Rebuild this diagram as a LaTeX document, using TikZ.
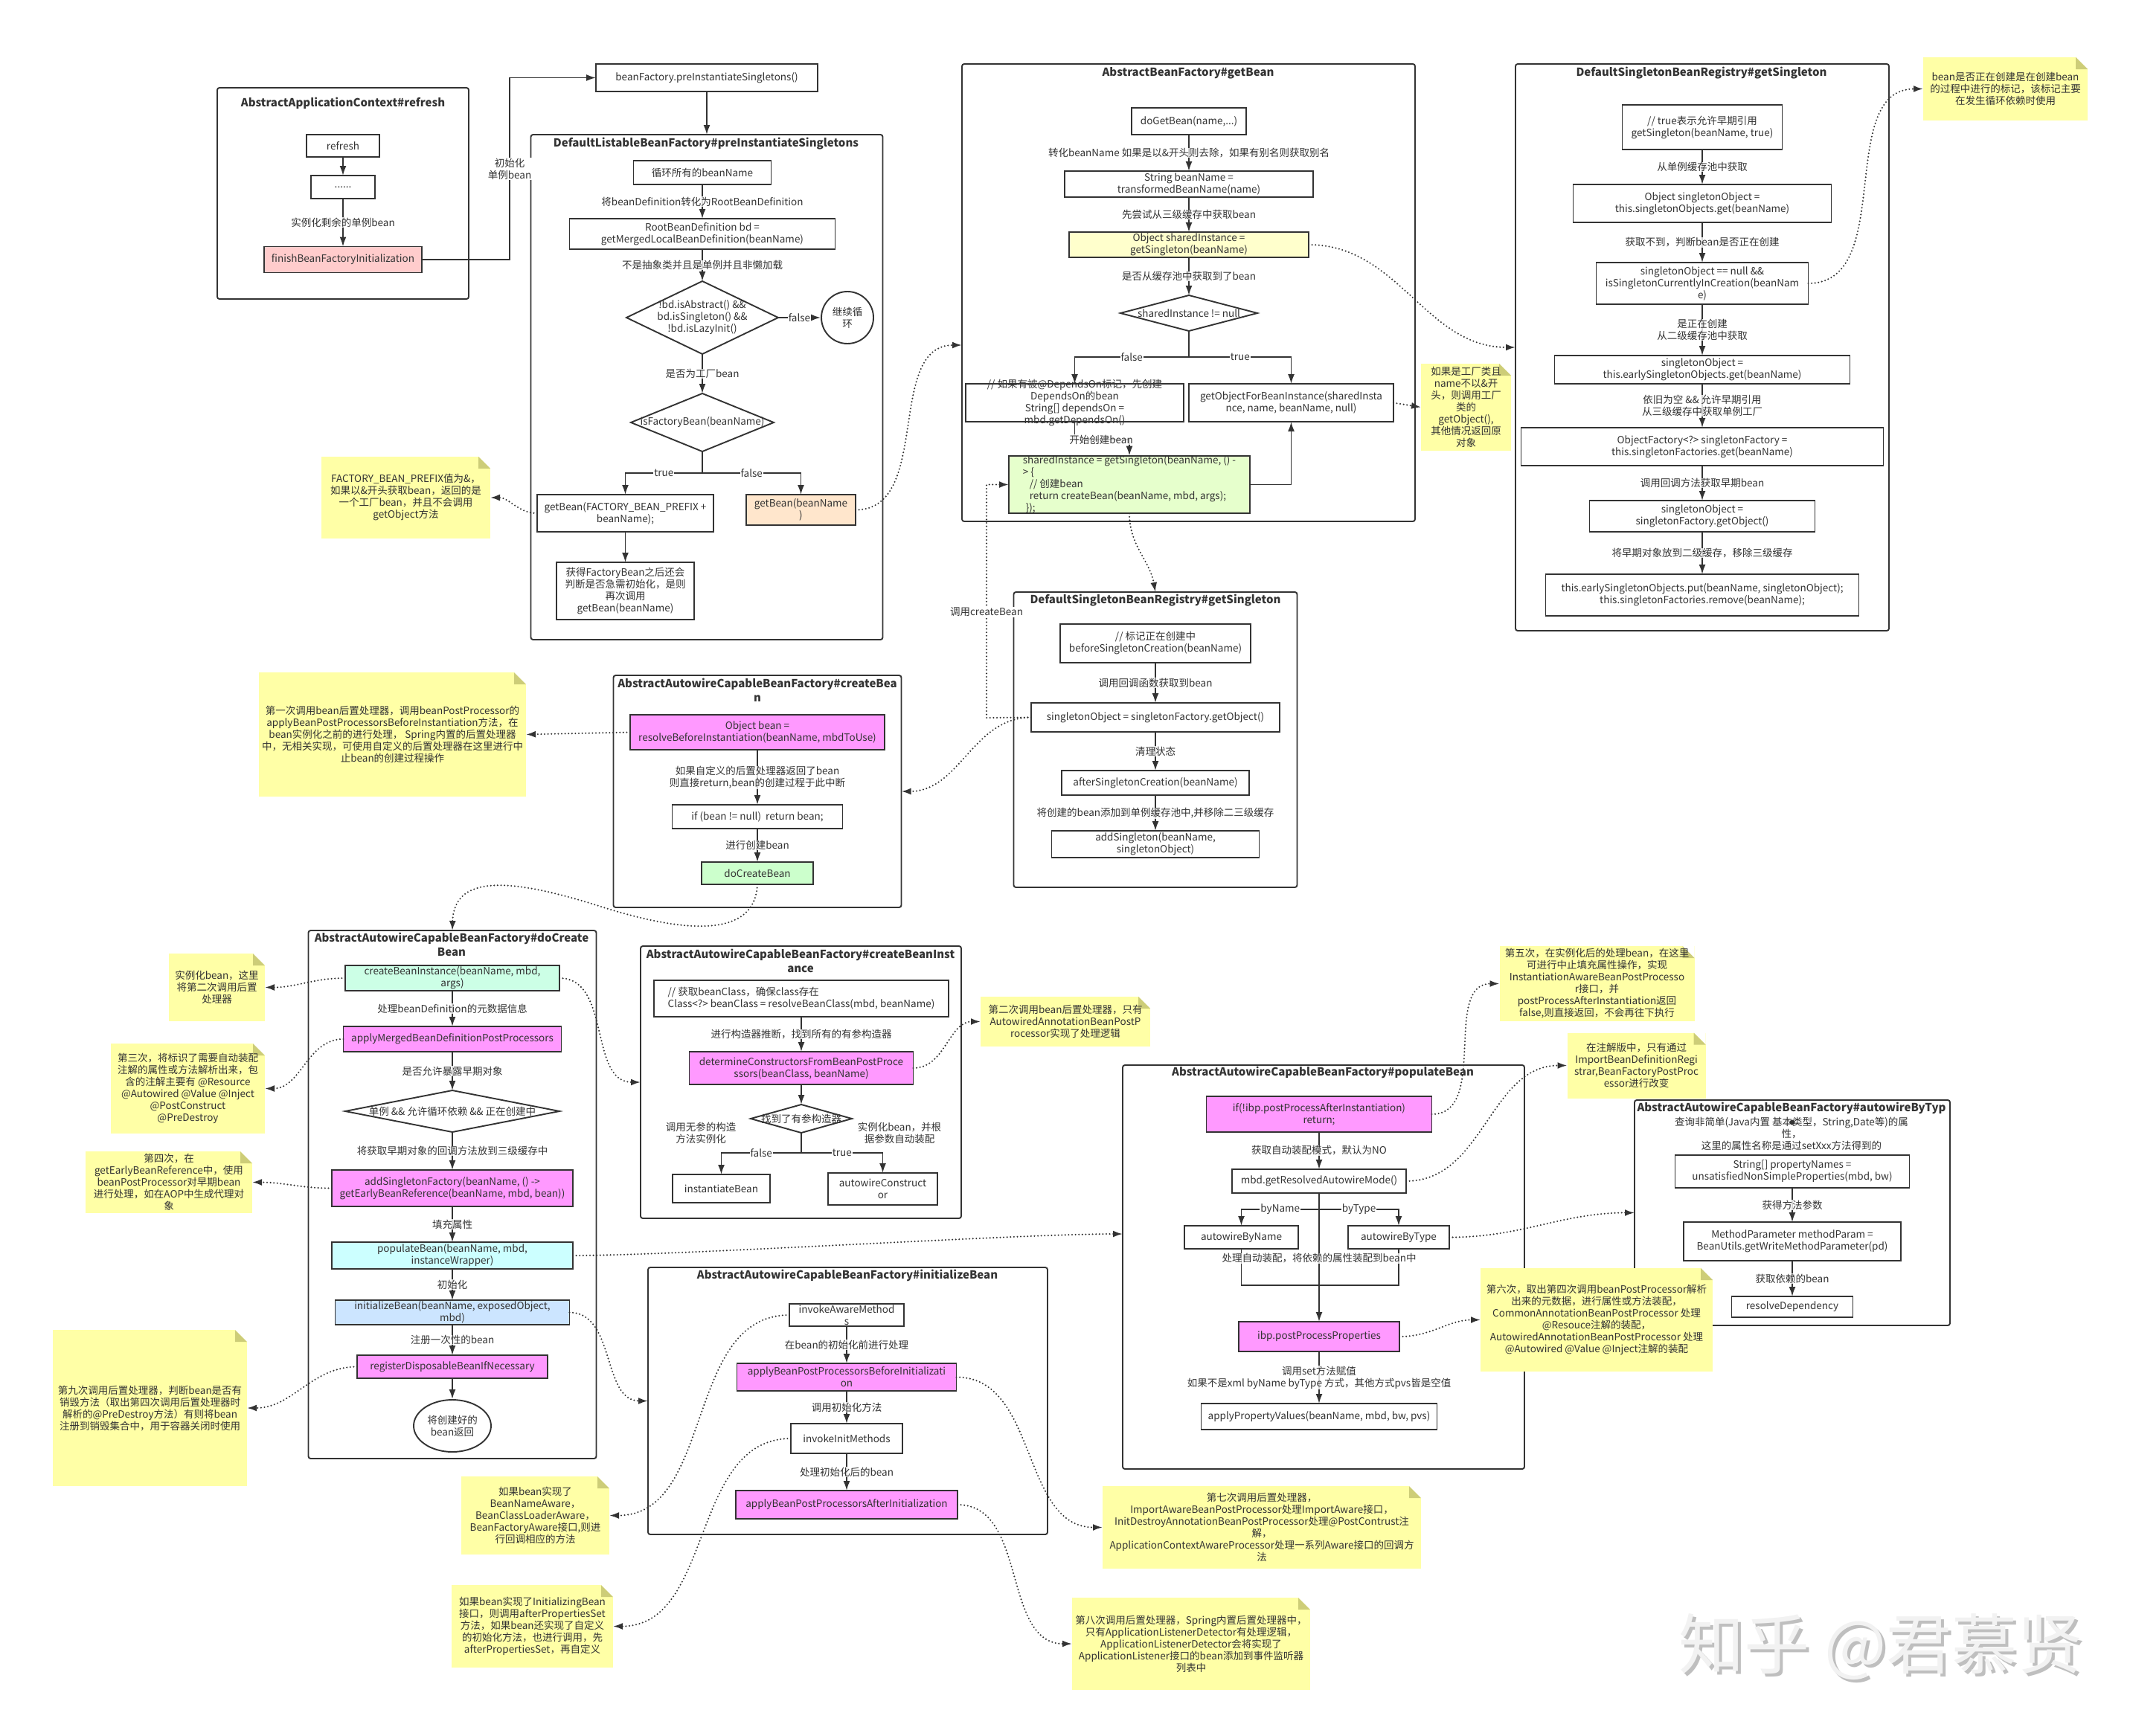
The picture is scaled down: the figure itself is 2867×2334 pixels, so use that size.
\documentclass[tikz,border=0pt]{standalone}
\usepackage{fontspec}
\setmainfont{Noto Sans CJK SC}
\usepackage{xcolor}
\usetikzlibrary{positioning, arrows.meta, shapes.geometric}
\definecolor{linecol}{HTML}{333333}
\definecolor{notefill}{HTML}{FFFFA6}
\definecolor{notefold}{HTML}{CDCD78}
\definecolor{pink}{HTML}{FF99FF}
\tikzset{
    every node/.style={font=\fontsize{13.5}{16}\selectfont, text=linecol},
    sz/.style 2 args={minimum width=#1pt, minimum height=#2pt},
    box/.style={rectangle, draw=linecol, line width=1.9pt, fill=white, inner sep=0pt, outer sep=0pt, align=center},
    panel/.style={box, rounded corners=3pt},
    dia/.style={diamond, draw=linecol, line width=1.9pt, fill=white, inner sep=0pt, outer sep=0pt},
    title/.style={align=center, inner sep=0pt, font=\fontsize{15}{19}\selectfont\bfseries},
    txt/.style={align=center, inner sep=0pt},
    lab/.style={align=center, inner sep=0.5pt, fill=white, fill opacity=0.8, text opacity=1},
    labw/.style={align=center, inner sep=1pt, fill=white},
    arr/.style={-{Latex[length=13pt,width=9pt]}, line width=1.9pt, draw=linecol},
    seg/.style={line width=1.9pt, draw=linecol},
    dotarr/.style={-{Latex[length=13pt,width=9pt]}, line width=2.3pt, draw=linecol, line cap=round, dash pattern=on 0pt off 4.6pt},
    note/.style={rectangle, fill=notefill, align=center, inner sep=0pt, outer sep=0pt,
        path picture={
            \fill[white] (path picture bounding box.north east) -- ++(-16pt,0pt) -- ++(16pt,-16pt) -- cycle;
            \fill[notefold] (path picture bounding box.north east) ++(-16pt,0pt) -- ++(16pt,-16pt) -- ++(-16pt,0pt) -- cycle;
        }},
}
\begin{document}
\begin{tikzpicture}[x=1pt, y=-1pt]
    \useasboundingbox (0,0) rectangle (2867,2334);

    \node[panel,sz={338}{284}] (refreshpanel) at (461,260) {};
    \node[panel,sz={473}{679}] (dlbfpanel) at (950,520.5) {};
    \node[panel,sz={609}{615}] (abfpanel) at (1597.5,393.5) {};
    \node[panel,sz={502}{762}] (spanel) at (2288,467) {};
    \node[panel,sz={381}{397}] (gspanel) at (1553,994.5) {};
    \node[panel,sz={387}{312}] (cbpanel) at (1018,1064) {};
    \node[panel,sz={387}{710}] (dopanel) at (608,1606) {};
    \node[panel,sz={431}{366}] (cipanel) at (1076.5,1455) {};
    \node[panel,sz={540}{543}] (ppanel) at (1779,1703.5) {};
    \node[panel,sz={424}{303}] (apanel) at (2409,1630.5) {};
    \node[panel,sz={537}{359}] (ipanel) at (1139.5,1883.5) {};

    \node[title] (refreshtitle) at (461,139) {AbstractApplicationContext\#refresh};
    \node[title] (dlbftitle) at (949,193) {DefaultListableBeanFactory\#preInstantiateSingletons};
    \node[title] (abftitle) at (1597,98) {AbstractBeanFactory\#getBean};
    \node[title] (stitle) at (2287,98) {DefaultSingletonBeanRegistry\#getSingleton};
    \node[title] (gstitle) at (1553,807) {DefaultSingletonBeanRegistry\#getSingleton};
    \node[title] (cbtitle) at (1018,928) {AbstractAutowireCapableBeanFactory\#createBea\\n};
    \node[title] (dotitle) at (607,1270) {AbstractAutowireCapableBeanFactory\#doCreate\\Bean};
    \node[title] (cititle) at (1076,1292) {AbstractAutowireCapableBeanFactory\#createBeanInst\\ance};
    \node[title] (ptitle) at (1778,1442) {AbstractAutowireCapableBeanFactory\#populateBean};
    \node[title] (atitle) at (2408,1490) {AbstractAutowireCapableBeanFactory\#autowireByTyp};
    \node[title] (ititle) at (1139,1715) {AbstractAutowireCapableBeanFactory\#initializeBean};

    \node[box,sz={98}{30}] (refresh) at (461,196) {refresh};
    \node[box,sz={86}{31}] (dots) at (461,251.5) {......};
    \node[box,sz={212}{35},fill={rgb,255:red,255;green,204;blue,204}] (finish) at (461,349) {finishBeanFactoryInitialization};
    \node[box,sz={298}{37}] (preinst) at (950,104.5) {beanFactory.preInstantiateSingletons()};

    \node[box,sz={185}{32}] (loop) at (944,232) {循环所有的beanName};
    \node[box,sz={357}{41}] (rootdef) at (944,314.5) {RootBeanDefinition bd =\\getMergedLocalBeanDefinition(beanName)};
    \node[dia,sz={204}{98}] (check) at (944,427) {};
    \node[txt] (checktext) at (check) {!bd.isAbstract() \&\&\\bd.isSingleton() \&\&\\!bd.isLazyInit()};
    \node[circle,draw=linecol,line width=1.9pt,inner sep=0pt,minimum size=70pt,align=center] (next) at (1139,427) {继续循\\环};
    \node[dia,sz={192}{78}] (isfac) at (944,568) {};
    \node[txt] (isfactext) at (isfac) {isFactoryBean(beanName)};
    \coordinate (spfac) at (944,636);
    \node[box,sz={237}{50}] (gbfac) at (840.5,690) {getBean(FACTORY\_BEAN\_PREFIX +\\beanName);};
    \node[box,sz={147}{41},fill={rgb,255:red,255;green,230;blue,204}] (gbname) at (1076.5,685.5) {getBean(beanName\\)};
    \node[box,sz={185}{77}] (facinit) at (840.5,794.5) {获得FactoryBean之后还会\\判断是否急需初始化，是则\\再次调用\\getBean(beanName)};

    \node[box,sz={154}{36}] (dogetbean) at (1598,163) {doGetBean(name,...)};
    \node[box,sz={334}{35}] (beanname) at (1598,247.5) {String beanName =\\transformedBeanName(name)};
    \node[box,sz={322}{34},fill={rgb,255:red,255;green,255;blue,204}] (shared) at (1598,329) {Object sharedInstance =\\getSingleton(beanName)};
    \node[dia,sz={184}{48}] (notnull) at (1598,421) {};
    \node[txt] (notnulltext) at (notnull) {sharedInstance != null};
    \coordinate (spshared) at (1598,480);
    \node[box,sz={293}{51}] (depends) at (1444.5,541.5) {};
    \node[txt] (dependstext) at (depends) {// 如果有被@DependsOn标记，先创建\\DependsOn的bean\\String[] dependsOn =\\mbd.getDependsOn()};
    \node[box,sz={275}{51}] (getobj) at (1735.5,541.5) {getObjectForBeanInstance(sharedInsta\\nce, name, beanName, null)};
    \node[box,sz={324}{77},align=left,fill={rgb,255:red,230;green,255;blue,204}] (green) at (1518,651.5) {sharedInstance = getSingleton(beanName, () -\\> \{\\\hspace*{9pt}// 创建bean\\\hspace*{9pt}return createBean(beanName, mbd, args);\\\hspace*{4pt}\});};
    \coordinate (depgreen) at (1480,591);

    \node[box,sz={215}{60}] (sa) at (2288,171) {// true表示允许早期引用\\getSingleton(beanName, true)};
    \node[box,sz={347}{51}] (sb) at (2288,273.5) {Object singletonObject =\\this.singletonObjects.get(beanName)};
    \node[box,sz={285}{56}] (sc) at (2288,381) {singletonObject == null \&\&\\isSingletonCurrentlyInCreation(beanNam\\e)};
    \node[box,sz={397}{38}] (sd) at (2288,497) {singletonObject =\\this.earlySingletonObjects.get(beanName)};
    \node[box,sz={487}{51}] (se) at (2288,600.5) {ObjectFactory<?> singletonFactory =\\this.singletonFactories.get(beanName)};
    \node[box,sz={303}{42}] (sf) at (2288,694) {singletonObject =\\singletonFactory.getObject()};
    \node[box,sz={421}{56}] (sg) at (2288,800) {this.earlySingletonObjects.put(beanName, singletonObject);\\this.singletonFactories.remove(beanName);};

    \node[box,sz={256}{52}] (ga) at (1553,865) {// 标记正在创建中\\beforeSingletonCreation(beanName)};
    \node[box,sz={334}{39}] (gb) at (1553,964.5) {singletonObject = singletonFactory.getObject()};
    \node[box,sz={252}{33}] (gc) at (1553,1052.5) {afterSingletonCreation(beanName)};
    \node[box,sz={279}{36}] (gd) at (1553,1135) {addSingleton(beanName,\\singletonObject)};

    \node[box,sz={342}{47},fill=pink] (ca) at (1018,984.5) {Object bean =\\resolveBeforeInstantiation(beanName, mbdToUse)};
    \node[box,sz={229}{32}] (cb) at (1018,1098) {if (bean != null)\ \ return bean;};
    \node[box,sz={150}{30},fill={rgb,255:red,204;green,255;blue,204}] (cc) at (1018,1174) {doCreateBean};
    \coordinate (wave) at (805,1218);

    \node[box,sz={288}{34},fill={rgb,255:red,204;green,255;blue,230}] (da) at (608,1315) {createBeanInstance(beanName, mbd,\\args)};
    \node[box,sz={293}{34},fill=pink] (db) at (608,1397) {applyMergedBeanDefinitionPostProcessors};
    \node[dia,sz={288}{56}] (dc) at (608,1494) {};
    \node[txt] (dctext) at (dc) {单例 \&\& 允许循环依赖 \&\& 正在创建中};
    \node[box,sz={324}{49},fill=pink] (dd) at (608,1597.5) {addSingletonFactory(beanName, () ->\\getEarlyBeanReference(beanName, mbd, bean))};
    \node[box,sz={324}{36},fill={rgb,255:red,204;green,255;blue,255}] (de) at (608,1688) {populateBean(beanName, mbd,\\instanceWrapper)};
    \node[box,sz={315}{33},fill={rgb,255:red,204;green,229;blue,255}] (df) at (608,1764.5) {initializeBean(beanName, exposedObject,\\mbd)};
    \node[box,sz={256}{31},fill=pink] (dg) at (608,1837.5) {registerDisposableBeanIfNecessary};
    \node[ellipse,draw=linecol,line width=1.9pt,inner sep=0pt,align=center,sz={104}{70}] (dh) at (608,1917) {将创建好的\\bean返回};

    \node[box,sz={396}{49},align=left] (cia) at (1077,1342.5) {// 获取beanClass，确保class存在\\Class<?> beanClass = resolveBeanClass(mbd, beanName)};
    \node[box,sz={301}{44},fill=pink] (cib) at (1077,1436) {determineConstructorsFromBeanPostProce\\ssors(beanClass, beanName)};
    \node[dia,sz={136}{38}] (cic) at (1077,1504) {};
    \node[txt] (cictext) at (cic) {找到了有参构造器};
    \coordinate (spctor) at (1077,1550);
    \node[box,sz={131}{38}] (cid) at (969.5,1598) {instantiateBean};
    \node[box,sz={147}{43}] (cie) at (1186.5,1598.5) {autowireConstruct\\or};
    \node[txt] (cileft) at (942,1523) {调用无参的构造\\方法实例化};
    \node[txt] (ciright) at (1209,1523) {实例化bean，并根\\据参数自动装配};

    \node[box,sz={303}{48},fill=pink] (pa) at (1773,1498) {if(!ibp.postProcessAfterInstantiation)\\return;};
    \node[box,sz={234}{32}] (pb) at (1773,1588) {mbd.getResolvedAutowireMode()};
    \coordinate (spmode) at (1773,1626);
    \node[box,sz={153}{31}] (pc) at (1668.5,1663.5) {autowireByName};
    \node[box,sz={136}{31}] (pd) at (1880,1663.5) {autowireByType};
    \coordinate (pjoin) at (1773,1728);
    \node[box,sz={216}{40},fill=pink] (pe) at (1773,1797) {ibp.postProcessProperties};
    \node[box,sz={317}{35}] (pf) at (1773,1904.5) {applyPropertyValues(beanName, mbd, bw, pvs)};

    \node[circle,fill=linecol,inner sep=0pt,minimum size=7pt] (adot) at (2409,1509) {};
    \node[txt] (aintro) at (2408,1524) {查询非简单(Java内置 基本类型，String,Date等)的属\\性，\\这里的属性名称是通过setXxx方法得到的};
    \node[box,sz={315}{44}] (aa) at (2409,1575) {String[] propertyNames =\\unsatisfiedNonSimpleProperties(mbd, bw)};
    \node[box,sz={292}{52}] (ab) at (2409,1669) {MethodParameter methodParam =\\BeanUtils.getWriteMethodParameter(pd)};
    \node[box,sz={163}{28}] (ac) at (2409,1757) {resolveDependency};

    \node[box,sz={154}{30}] (ia) at (1138,1768) {};
    \node[txt] (iatext) at (ia) {invokeAwareMethod\\s};
    \node[box,sz={295}{37},fill=pink] (ib) at (1138,1851.5) {applyBeanPostProcessorsBeforeInitializati\\on};
    \node[box,sz={150}{40}] (ic) at (1138,1934) {invokeInitMethods};
    \node[box,sz={298}{38},fill=pink] (id) at (1138,2023) {applyBeanPostProcessorsAfterInitialization};

    \draw[arr] (refresh.south) -- (dots.north);
    \draw[arr] (dots.south) -- node[lab] (l1) {实例化剩余的单例bean} (finish.north);
    \coordinate (initmid) at (685,227);
    \draw[arr] (finish.east) -| (initmid) |- (preinst.west);
    \node[labw] (l2) at (initmid) {初始化\\单例bean};
    \draw[arr] (preinst.south) -- (dlbfpanel.north);
    \draw[arr] (loop.south) -- node[lab] (l3) {将beanDefinition转化为RootBeanDefinition} (rootdef.north);
    \draw[arr] (rootdef.south) -- node[lab] (l4) {不是抽象类并且是单例并且非懒加载} (check.north);
    \draw[arr] (check.east) -- node[labw] (l5) {false} (next.west);
    \draw[arr] (check.south) -- node[lab] (l6) {是否为工厂bean} (isfac.north);
    \draw[seg] (isfac.south) -- (spfac);
    \draw[arr] (spfac) -| node[labw,pos=0.25] (l7) {true} (gbfac.north);
    \draw[arr] (spfac) -| node[labw,pos=0.25] (l8) {false} (gbname.north);
    \draw[arr] (gbfac.south) -- (facinit.north);

    \draw[arr] (dogetbean.south) -- node[lab] (l9) {转化beanName 如果是以\&开头则去除，如果有别名则获取别名} (beanname.north);
    \draw[arr] (beanname.south) -- node[lab] (l10) {先尝试从三级缓存中获取bean} (shared.north);
    \draw[arr] (shared.south) -- node[lab] (l11) {是否从缓存池中获取到了bean} (notnull.north);
    \draw[seg] (notnull.south) -- (spshared);
    \draw[arr] (spshared) -| node[labw,pos=0.25] (l12) {false} (depends.north);
    \draw[arr] (spshared) -| node[labw,pos=0.25] (l13) {true} (getobj.north);
    \draw[arr] (depends.south) |- (depgreen) -| (green.north);
    \node[lab] (l14) at (depgreen) {开始创建bean};
    \draw[arr] (green.east) -| (getobj.south);

    \draw[arr] (sa.south) -- node[lab] (l15) {从单例缓存池中获取} (sb.north);
    \draw[arr] (sb.south) -- node[lab] (l16) {获取不到，判断bean是否正在创建} (sc.north);
    \draw[arr] (sc.south) -- node[lab] (l17) {是正在创建\\从二级缓存池中获取} (sd.north);
    \draw[arr] (sd.south) -- node[lab] (l18) {依旧为空 \&\& 允许早期引用\\从三级缓存中获取单例工厂} (se.north);
    \draw[arr] (se.south) -- node[lab] (l19) {调用回调方法获取早期bean} (sf.north);
    \draw[arr] (sf.south) -- node[lab] (l20) {将早期对象放到二级缓存，移除三级缓存} (sg.north);

    \draw[arr] (ga.south) -- node[lab] (l21) {调用回调函数获取到bean} (gb.north);
    \draw[arr] (gb.south) -- node[lab] (l22) {清理状态} (gc.north);
    \draw[arr] (gc.south) -- node[lab] (l23) {将创建的bean添加到单例缓存池中,并移除二三级缓存} (gd.north);

    \draw[arr] (ca.south) -- node[lab] (l24) {如果自定义的后置处理器返回了bean\\则直接return,bean的创建过程于此中断} (cb.north);
    \draw[arr] (cb.south) -- node[lab] (l25) {进行创建bean} (cc.north);

    \draw[arr] (da.south) -- node[lab] (l26) {处理beanDefinition的元数据信息} (db.north);
    \draw[arr] (db.south) -- node[lab] (l27) {是否允许暴露早期对象} (dc.north);
    \draw[arr] (dc.south) -- node[lab] (l28) {将获取早期对象的回调方法放到三级缓存中} (dd.north);
    \draw[arr] (dd.south) -- node[lab] (l29) {填充属性} (de.north);
    \draw[arr] (de.south) -- node[lab] (l30) {初始化} (df.north);
    \draw[arr] (df.south) -- node[lab] (l31) {注册一次性的bean} (dg.north);
    \draw[arr] (dg.south) -- (dh.north);

    \draw[arr] (cia.south) -- node[lab] (l32) {进行构造器推断，找到所有的有参构造器} (cib.north);
    \draw[arr] (cib.south) -- (cic.north);
    \draw[seg] (cic.south) -- (spctor);
    \draw[arr] (spctor) -| node[labw,pos=0.25] (l33) {false} (cid.north);
    \draw[arr] (spctor) -| node[labw,pos=0.25] (l34) {true} (cie.north);

    \draw[arr] (pa.south) -- node[lab] (l35) {获取自动装配模式，默认为NO} (pb.north);
    \draw[arr] (pb.south) -- (pe.north);
    \draw[arr] (spmode) -| node[labw,pos=0.25] (l36) {byName} (pc.north);
    \draw[arr] (spmode) -| node[labw,pos=0.25] (l37) {byType} (pd.north);
    \draw[seg] (pc.south) |- (pjoin) -| (pd.south);
    \node[lab] (l38) at (1773,1692) {处理自动装配，将依赖的属性装配到bean中};
    \draw[arr] (pe.south) -- node[lab] (l39) {调用set方法赋值\\如果不是xml byName byType 方式，其他方式pvs皆是空值} (pf.north);

    \draw[arr] (aa.south) -- node[lab] (l40) {获得方法参数} (ab.north);
    \draw[arr] (ab.south) -- node[lab] (l41) {获取依赖的bean} (ac.north);

    \draw[arr] (ia.south) -- node[lab] (l42) {在bean的初始化前进行处理} (ib.north);
    \draw[arr] (ib.south) -- node[lab] (l43) {调用初始化方法} (ic.north);
    \draw[arr] (ic.south) -- node[lab] (l44) {处理初始化后的bean} (id.north);

    \node[note,sz={227}{110}] (nfac) at (545.5,669) {FACTORY\_BEAN\_PREFIX值为\&，\\如果以\&开头获取bean，返回的是\\一个工厂bean，并且不会调用\\getObject方法};
    \node[note,sz={121}{117}] (nobj) at (1970.5,547.5) {如果是工厂类且\\name不以\&开\\头，则调用工厂\\类的\\getObject(),\\其他情况返回原\\对象};
    \node[note,sz={221}{85}] (ncreate) at (2695.5,119.5) {bean是否正在创建是在创建bean\\的过程中进行的标记，该标记主要\\在发生循环依赖时使用};
    \node[note,sz={359}{167}] (nfirst) at (527.5,987.5) {第一次调用bean后置处理器，调用beanPostProcessor的\\applyBeanPostProcessorsBeforeInstantiation方法，在\\bean实例化之前的进行处理， Spring内置的后置处理器\\中，无相关实现，可使用自定义的后置处理器在这里进行中\\止bean的创建过程操作};
    \node[note,sz={129}{91}] (ninst) at (291.5,1327.5) {实例化bean，这里\\将第二次调用后置\\处理器};
    \node[note,sz={207}{121}] (nthird) at (252.5,1463.5) {第三次，将标识了需要自动装配\\注解的属性或方法解析出来，包\\含的注解主要有 @Resource\\@Autowired @Value @Inject\\@PostConstruct\\@PreDestroy};
    \node[note,sz={224}{83}] (nfourth) at (227,1589.5) {第四次，在\\getEarlyBeanReference中，使用\\beanPostProcessor对早期bean\\进行处理，如在AOP中生成代理对\\象};
    \node[note,sz={261}{210}] (nninth) at (201.5,1893) {第九次调用后置处理器，判断bean是否有\\销毁方法（取出第四次调用后置处理器时\\解析的@PreDestroy方法）有则将bean\\注册到销毁集合中，用于容器关闭时使用};
    \node[note,sz={228}{67}] (nsecond) at (1432,1373.5) {第二次调用bean后置处理器，只有\\AutowiredAnnotationBeanPostP\\rocessor实现了处理逻辑};
    \node[note,sz={262}{101}] (nfifth) at (2146.5,1322.5) {第五次，在实例化后的处理bean，在这里\\可进行中止填充属性操作，实现\\InstantiationAwareBeanPostProcesso\\r接口，并\\postProcessAfterInstantiation返回\\false,则直接返回，不会再往下执行};
    \node[note,sz={186}{88}] (nanno) at (2199.5,1432.5) {在注解版中，只有通过\\ImportBeanDefinitionRegi\\strar,BeanFactoryPostProc\\essor进行改变};
    \node[note,sz={312}{139}] (nsixth) at (2146,1774.5) {第六次，取出第四次调用beanPostProcessor解析\\出来的元数据，进行属性或方法装配，\\CommonAnnotationBeanPostProcessor 处理\\@Resouce注解的装配，\\AutowiredAnnotationBeanPostProcessor 处理\\@Autowired @Value @Inject注解的装配};
    \node[note,sz={199}{105}] (naware) at (719.5,2037.5) {如果bean实现了\\BeanNameAware，\\BeanClassLoaderAware，\\BeanFactoryAware接口,则进\\行回调相应的方法};
    \node[note,sz={217}{111}] (ninit) at (715.5,2186.5) {如果bean实现了InitializingBean\\接口，则调用afterPropertiesSet\\方法，如果bean还实现了自定义\\的初始化方法，也进行调用，先\\afterPropertiesSet，再自定义};
    \node[note,sz={428}{111}] (nseventh) at (1696,2053.5) {第七次调用后置处理器，\\ImportAwareBeanPostProcessor处理ImportAware接口，\\InitDestroyAnnotationBeanPostProcessor处理@PostContrust注\\解，\\ApplicationContextAwareProcessor处理一系列Aware接口的回调方\\法};
    \node[note,sz={320}{124}] (neighth) at (1601,2210) {第八次调用后置处理器，Spring内置后置处理器中，\\只有ApplicationListenerDetector有处理逻辑，\\ApplicationListenerDetector会将实现了\\ApplicationListener接口的bean添加到事件监听器\\列表中};

    \coordinate (abfin) at (abfpanel.west |- 0,464);
    \coordinate (popin) at (ppanel.west |- 0,1659);
    \coordinate (gbout) at (1326,965);
    \coordinate (gbup) at (1326,823);

    \draw[dotarr] (gbfac.west) to[out=180,in=0] (nfac.east);
    \draw[dotarr] (gbname.east) to[out=0,in=180] (abfin);
    \draw[dotarr] (shared.east) to[out=0,in=180] (spanel.west);
    \draw[dotarr] (getobj.east) -- (nobj.west);
    \draw[dotarr] (sc.east) to[out=0,in=180] (ncreate.west);
    \draw[dotarr] (green.south) to[out=-90,in=100] (gspanel.north);
    \draw[dotarr] (gb.west) -- (gbout) |- (green.west);
    \node[labw] (lcall) at (gbup) {调用createBean};
    \draw[dotarr] (gb.west) to[out=180,in=0] (cbpanel.east);
    \draw[dotarr] (ca.west) -- (nfirst.east);
    \draw[dotarr] (cc.south) .. controls (1015,1262) and (920,1255) .. (wave) .. controls (700,1185) and (610,1170) .. (dopanel.north);
    \draw[dotarr] (da.west) to[out=180,in=0] (ninst.east);
    \draw[dotarr] (db.west) to[out=180,in=0] (nthird.east);
    \draw[dotarr] (dd.west) to[out=180,in=0] (nfourth.east);
    \draw[dotarr] (dg.west) to[out=180,in=0] (nninth.east);
    \draw[dotarr] (da.east) to[out=0,in=180] (cipanel.west);
    \draw[dotarr] (df.east) to[out=0,in=180] (ipanel.west);
    \draw[dotarr] (de.east) to[out=0,in=180,looseness=0.5] (popin);
    \draw[dotarr] (cib.east) to[out=0,in=180] (nsecond.west);
    \draw[dotarr] (pa.east) to[out=0,in=180] (nfifth.west);
    \draw[dotarr] (pb.east) to[out=0,in=180] (nanno.west);
    \draw[dotarr] (pd.east) to[out=0,in=180] (apanel.west);
    \draw[dotarr] (pe.east) to[out=0,in=180] (nsixth.west);
    \draw[dotarr] (ia.west) to[out=180,in=0] (naware.east);
    \draw[dotarr] (ic.west) to[out=180,in=0] (ninit.east);
    \draw[dotarr] (ib.east) to[out=0,in=180] (nseventh.west);
    \draw[dotarr] (id.east) to[out=0,in=180] (neighth.west);

    \node[font=\fontsize{88}{90}\selectfont, text=black!25] (wmback) at (2532,2218) {知乎 @君慕贤};
    \node[font=\fontsize{88}{90}\selectfont, text=black!5] (wmfront) at (2528,2214) {知乎 @君慕贤};
\end{tikzpicture}
\end{document}
